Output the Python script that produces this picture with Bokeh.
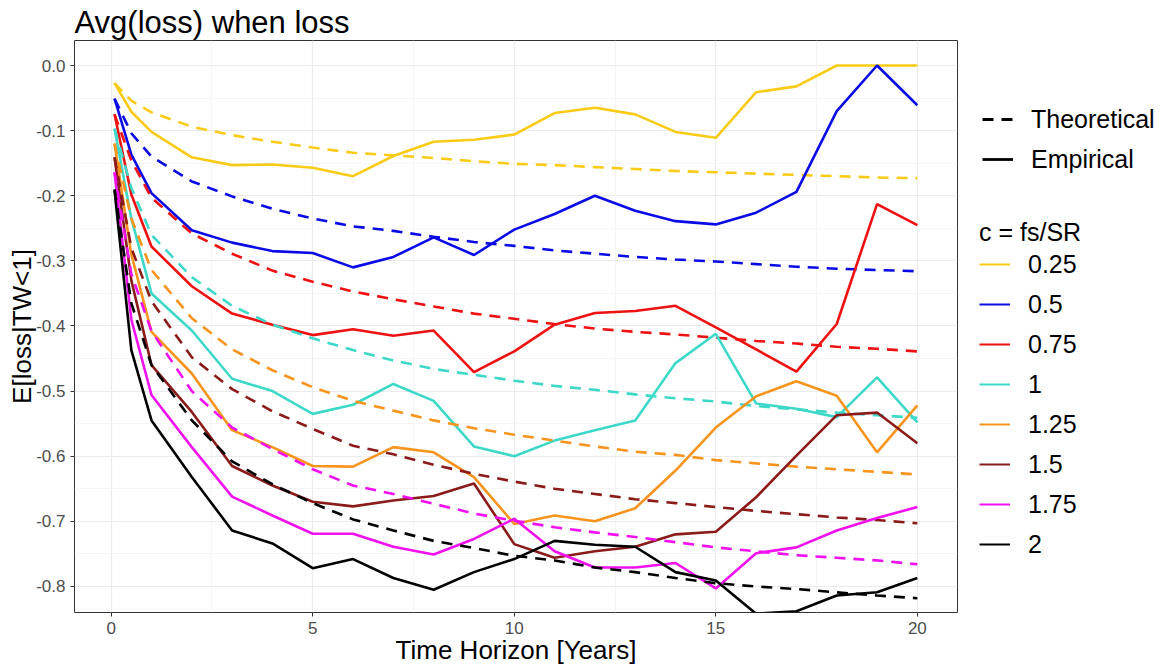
from bokeh.plotting import figure
from bokeh.layouts import row
from bokeh.models import Range1d, FixedTicker, Legend, LegendItem, PrintfTickFormatter
from bokeh.embed import file_html
from bokeh.resources import INLINE

# ---------------- data ----------------
horizon = [1/12, 0.5, 1, 2, 3, 4, 5, 6, 7, 8, 9, 10, 11, 12, 13, 14, 15, 16, 17, 18, 19, 20]

c_labels = ["0.25", "0.5", "0.75", "1", "1.25", "1.5", "1.75", "2"]
c_colors = ["#F9CB16", "#0A0AE6", "#EE1111", "#3DD8C8", "#F7941D", "#8B1A1A", "#F010F0", "#000000"]
style_labels = ["Theoretical", "Empirical"]

emp_025 = [-0.027, -0.071, -0.102, -0.141, -0.153, -0.152, -0.157, -0.170, -0.139, -0.117, -0.114,
           -0.106, -0.073, -0.065, -0.075, -0.102, -0.111, -0.041, -0.032, 0.0, 0.0, 0.0]
emp_050 = [-0.051, -0.137, -0.196, -0.253, -0.272, -0.285, -0.288, -0.310, -0.294, -0.264, -0.291,
           -0.252, -0.228, -0.200, -0.223, -0.239, -0.244, -0.226, -0.194, -0.070, 0.0, -0.061]
emp_075 = [-0.075, -0.198, -0.278, -0.339, -0.381, -0.398, -0.414, -0.405, -0.415, -0.407, -0.471,
           -0.439, -0.398, -0.380, -0.377, -0.369, -0.402, -0.436, -0.470, -0.397, -0.213, -0.245]
emp_100 = [-0.097, -0.235, -0.350, -0.407, -0.481, -0.500, -0.535, -0.521, -0.489, -0.515, -0.585,
           -0.600, -0.576, -0.560, -0.545, -0.457, -0.412, -0.519, -0.527, -0.540, -0.479, -0.548]
emp_125 = [-0.120, -0.290, -0.409, -0.473, -0.560, -0.586, -0.615, -0.616, -0.586, -0.594, -0.632,
           -0.704, -0.691, -0.700, -0.680, -0.622, -0.556, -0.508, -0.485, -0.507, -0.594, -0.522]
emp_150 = [-0.141, -0.330, -0.460, -0.532, -0.615, -0.645, -0.670, -0.677, -0.668, -0.661, -0.642,
           -0.735, -0.756, -0.746, -0.739, -0.720, -0.716, -0.663, -0.599, -0.537, -0.533, -0.580]
emp_175 = [-0.164, -0.390, -0.506, -0.586, -0.662, -0.691, -0.719, -0.719, -0.739, -0.751, -0.727,
           -0.696, -0.746, -0.771, -0.771, -0.764, -0.803, -0.749, -0.740, -0.714, -0.695, -0.678]
emp_200 = [-0.192, -0.437, -0.545, -0.632, -0.714, -0.734, -0.772, -0.758, -0.787, -0.805, -0.778,
           -0.758, -0.730, -0.736, -0.739, -0.778, -0.791, -0.842, -0.838, -0.814, -0.809, -0.787]

theo_025 = [-0.027, -0.054, -0.072, -0.094, -0.107, -0.117, -0.126, -0.134, -0.138, -0.142, -0.147,
            -0.151, -0.153, -0.156, -0.159, -0.162, -0.164, -0.166, -0.168, -0.170, -0.172, -0.173]
theo_050 = [-0.051, -0.104, -0.140, -0.178, -0.201, -0.220, -0.235, -0.247, -0.254, -0.263, -0.271,
            -0.277, -0.284, -0.289, -0.294, -0.298, -0.301, -0.305, -0.309, -0.312, -0.314, -0.316]
theo_075 = [-0.075, -0.146, -0.203, -0.258, -0.289, -0.315, -0.332, -0.347, -0.359, -0.370, -0.381,
            -0.389, -0.397, -0.404, -0.409, -0.413, -0.418, -0.423, -0.427, -0.432, -0.435, -0.439]
theo_100 = [-0.097, -0.188, -0.260, -0.325, -0.369, -0.398, -0.419, -0.437, -0.453, -0.466, -0.475,
            -0.484, -0.492, -0.498, -0.505, -0.511, -0.516, -0.523, -0.528, -0.533, -0.537, -0.541]
theo_125 = [-0.120, -0.235, -0.314, -0.388, -0.436, -0.468, -0.494, -0.515, -0.530, -0.545, -0.557,
            -0.567, -0.576, -0.585, -0.593, -0.598, -0.606, -0.611, -0.616, -0.620, -0.624, -0.628]
theo_150 = [-0.141, -0.280, -0.362, -0.448, -0.497, -0.531, -0.558, -0.584, -0.597, -0.613, -0.627,
            -0.639, -0.650, -0.658, -0.666, -0.672, -0.678, -0.684, -0.689, -0.694, -0.698, -0.703]
theo_175 = [-0.164, -0.320, -0.408, -0.500, -0.556, -0.589, -0.620, -0.645, -0.658, -0.673, -0.688,
            -0.699, -0.709, -0.717, -0.724, -0.732, -0.740, -0.746, -0.752, -0.756, -0.760, -0.766]
theo_200 = [-0.190, -0.365, -0.460, -0.545, -0.608, -0.643, -0.672, -0.697, -0.714, -0.730, -0.741,
            -0.753, -0.760, -0.771, -0.778, -0.787, -0.795, -0.800, -0.804, -0.809, -0.814, -0.818]

empirical = [emp_025, emp_050, emp_075, emp_100, emp_125, emp_150, emp_175, emp_200]
theoretical = [theo_025, theo_050, theo_075, theo_100, theo_125, theo_150, theo_175, theo_200]

x_ticks = [0, 5, 10, 15, 20]
x_minor = [2.5, 7.5, 12.5, 17.5]
y_ticks = [-0.8, -0.7, -0.6, -0.5, -0.4, -0.3, -0.2, -0.1, 0.0]
y_minor = [-0.75, -0.65, -0.55, -0.45, -0.35, -0.25, -0.15, -0.05]

FONT = "Liberation Sans"
DASH = "11 8"
LW = 2.6
NAN = float("nan")

# ---------------- main plot ----------------
p = figure(width=958, height=670, output_backend="svg", toolbar_location=None,
           x_range=Range1d(-0.91, 20.996), y_range=Range1d(-0.840, 0.0384),
           min_border_left=74, min_border_right=1, min_border_top=40, min_border_bottom=58,
           title="Avg(loss) when loss")
p.background_fill_color = "white"
p.border_fill_color = "white"
p.outline_line_color = "#333333"
p.outline_line_width = 1

p.title.text_font = FONT
p.title.text_font_size = "31px"
p.title.text_font_style = "normal"
p.title.text_color = "black"
p.title.align = "left"
p.title.standoff = 1

xt = FixedTicker(ticks=x_ticks, minor_ticks=x_minor)
yt = FixedTicker(ticks=y_ticks, minor_ticks=y_minor)
p.xaxis.ticker = xt
p.yaxis.ticker = yt
p.xgrid.ticker = xt
p.ygrid.ticker = yt
p.yaxis.formatter = PrintfTickFormatter(format="%.1f")

for g in (p.xgrid, p.ygrid):
    g.grid_line_color = "#EBEBEB"
    g.grid_line_width = 1.2
    g.minor_grid_line_color = "#F2F2F2"
    g.minor_grid_line_width = 0.8

for ax in (p.xaxis, p.yaxis):
    ax.axis_line_color = None
    ax.major_tick_line_color = "#333333"
    ax.major_tick_out = 4
    ax.major_tick_in = 0
    ax.minor_tick_line_color = None
    ax.major_label_text_font = FONT
    ax.major_label_text_font_size = "17px"
    ax.major_label_text_color = "#4D4D4D"
    ax.major_label_standoff = 5
    ax.axis_label_text_font = FONT
    ax.axis_label_text_font_size = "26px"
    ax.axis_label_text_font_style = "normal"
    ax.axis_label_text_color = "black"

p.xaxis.axis_label = "Time Horizon [Years]"
p.yaxis.axis_label = "E[loss|TW<1]"
p.xaxis.axis_label_standoff = -2
p.yaxis.axis_label_standoff = -4

for col, th, em in zip(c_colors, theoretical, empirical):
    p.line(horizon, th, line_color=col, line_width=LW, line_dash=DASH)
    p.line(horizon, em, line_color=col, line_width=LW)

# ---------------- legend panel ----------------
q = figure(width=215, height=670, output_backend="svg", toolbar_location=None,
           x_range=Range1d(0, 1), y_range=Range1d(0, 1),
           x_axis_type=None, y_axis_type=None, min_border=0)
q.grid.visible = False
q.outline_line_color = None
q.background_fill_color = "white"
q.border_fill_color = "white"

# legend key renderers (no visible data)
key_theo = q.line([NAN, NAN], [NAN, NAN], line_color="black", line_width=2.8, line_dash=DASH)
key_emp = q.line([NAN, NAN], [NAN, NAN], line_color="black", line_width=2.8)
key_cols = [q.line([NAN, NAN], [NAN, NAN], line_color=col, line_width=2.0) for col in c_colors]


def style_legend(lg):
    lg.label_text_font = FONT
    lg.label_text_font_size = "25px"
    lg.label_text_color = "black"
    lg.glyph_width = 31
    lg.glyph_height = 30
    lg.label_height = 30
    lg.spacing = 10
    lg.label_standoff = 18
    lg.padding = 0
    lg.margin = 0
    lg.border_line_color = None
    lg.background_fill_alpha = 0


# q's frame is aligned with p's frame (top 40, bottom 612)
leg1 = Legend(items=[LegendItem(label=style_labels[0], renderers=[key_theo]),
                     LegendItem(label=style_labels[1], renderers=[key_emp])],
              location=(24, 438))
style_legend(leg1)
q.add_layout(leg1, "center")

leg2 = Legend(items=[LegendItem(label=l, renderers=[r]) for l, r in zip(c_labels, key_cols)],
              location=(21, 53), title="c = fs/SR")
style_legend(leg2)
leg2.title_text_font = FONT
leg2.title_text_font_size = "25px"
leg2.title_text_font_style = "normal"
leg2.title_text_color = "black"
leg2.title_standoff = 2
q.add_layout(leg2, "center")

layout = row(p, q, spacing=0)
open("out.html", "w").write(file_html(layout, INLINE))
